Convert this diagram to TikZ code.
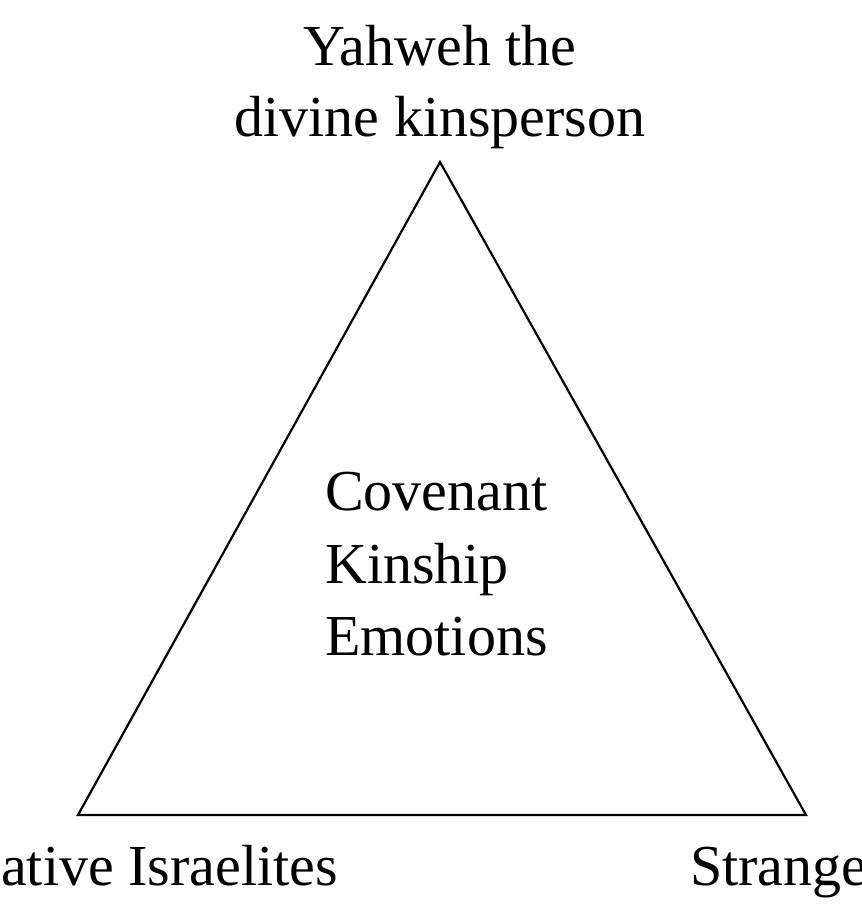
\documentclass[tikz,border=0pt]{standalone}
\usepackage{fontspec}
\setmainfont{Liberation Serif}
\begin{document}
\begin{tikzpicture}[x=1pt,y=1pt,
  lbl/.style={inner sep=0pt,font=\fontsize{58}{72}\selectfont}]
\useasboundingbox (0,0) rectangle (862,-916);
\clip (0,0) rectangle (862,-916);
\coordinate (top) at (440,-162);
\coordinate (bl) at (78,-815);
\coordinate (br) at (806,-815);
\draw[line width=2.2pt,line join=miter] (top) -- (bl) -- (br) -- cycle;
\node[lbl,anchor=base] (t1) at (440,-65) {Yahweh the};
\node[lbl,anchor=base] (t2) at (440,-136) {divine kinsperson};
\node[lbl,anchor=base west] (c1) at (325,-510) {Covenant};
\node[lbl,anchor=base west] (c2) at (325,-583) {Kinship};
\node[lbl,anchor=base west] (c3) at (325,-655) {Emotions};
\node[lbl,anchor=base east] (n) at (338,-885) {Native Israelites};
\node[lbl,anchor=base west] (s) at (690,-885) {Strangers};
\end{tikzpicture}
\end{document}
